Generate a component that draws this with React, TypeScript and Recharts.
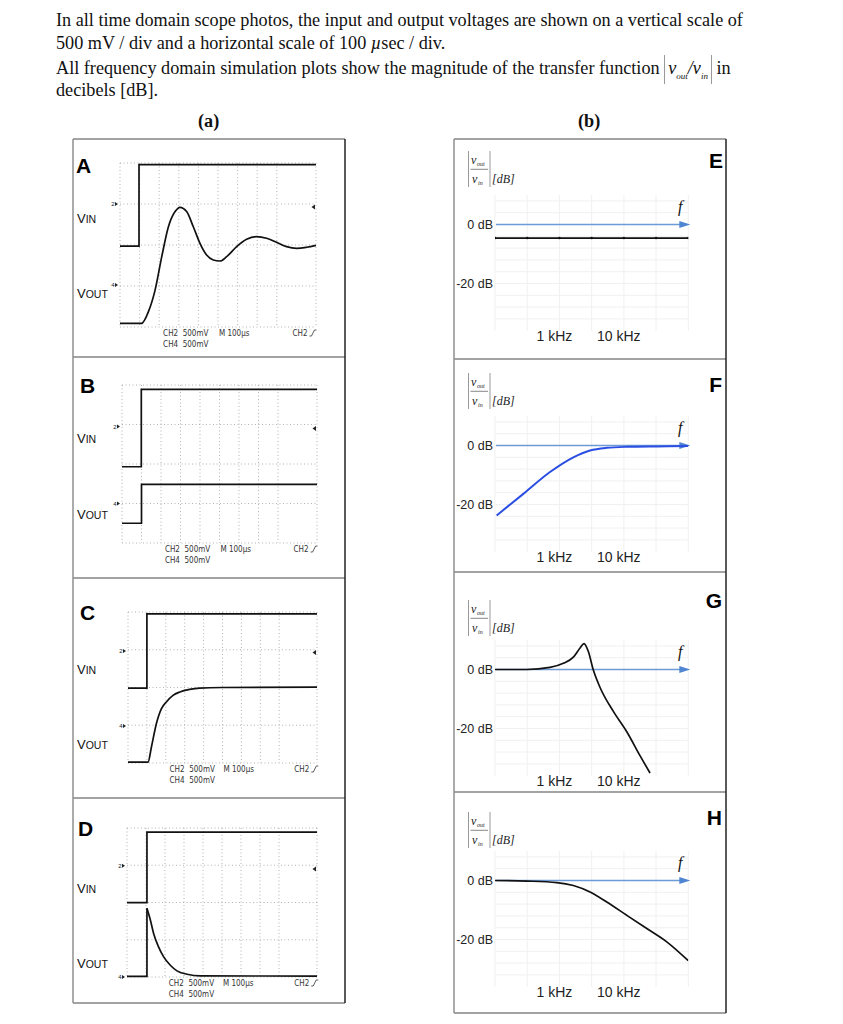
import React from 'react';
import { LineChart, Line, XAxis, YAxis, CartesianGrid, ReferenceLine, ReferenceDot } from 'recharts';

const SANS = "'Liberation Sans', Arial, Helvetica, sans-serif";
const NARROW = "'Liberation Sans Narrow', 'Arial Narrow', 'DejaVu Sans Condensed', sans-serif";
const SERIF = "'Liberation Serif', 'Times New Roman', Times, serif";

// ---- scope photos: 10 x 8 divisions (100 us/div, 500 mV/div), values read in divisions ----
const divX = [0, 1, 2, 3, 4, 5, 6, 7, 8, 9, 10];
const divY = [0, 1, 2, 3, 4, 5, 6, 7, 8];

// A - underdamped ringing
const aVinT = [0, 0.97, 0.97, 10];
const aVinV = [3.95, 3.95, 7.92, 7.92];
const aOutT = [0, 1.1, 1.45, 1.79, 2.13, 2.47, 2.81, 3.06, 3.4, 3.74, 4.08, 4.42, 4.76, 5.1, 5.44, 5.95, 6.46, 6.97, 7.48, 7.99, 8.5, 9.01, 9.52, 10];
const aOutV = [0.18, 0.18, 0.75, 1.8, 3.43, 4.89, 5.63, 5.84, 5.63, 4.89, 4.08, 3.51, 3.27, 3.22, 3.43, 3.92, 4.28, 4.41, 4.33, 4.13, 3.92, 3.84, 3.89, 3.98];

// B - flat (resistive divider)
const bVinT = [0, 0.99, 0.99, 10];
const bVinV = [3.86, 3.86, 7.78, 7.78];
const bOutT = [0, 1.0, 1.0, 10];
const bOutV = [1.0, 1.0, 2.97, 2.97];

// C - first order low pass
const cVinT = [0, 1.0, 1.0, 10];
const cVinV = [3.97, 3.97, 7.9, 7.9];
const cOutT = [0, 1.06, 1.24, 1.5, 1.77, 2.03, 2.38, 2.74, 3.26, 3.79, 5, 10];
const cOutV = [0.05, 0.05, 0.85, 2.08, 2.88, 3.23, 3.58, 3.76, 3.9, 3.97, 4.0, 4.02];

// D - first order high pass
const dVinT = [0, 1.05, 1.05, 10];
const dVinV = [3.99, 3.99, 7.78, 7.78];
const dJumpT = [0, 1.05, 1.05];
const dJumpV = [0.03, 0.03, 3.69];
const dOutT = [1.05, 1.23, 1.4, 1.66, 1.93, 2.28, 2.63, 3.16, 3.86, 10];
const dOutV = [3.69, 3.06, 2.34, 1.62, 1.08, 0.63, 0.33, 0.15, 0.06, 0.05];

// ground / trigger markers (divisions): ch2, ch4, trigger level
const aMarks = [6.0, 2.05, 5.85];
const bMarks = [5.9, 2.0, 5.8];
const cMarks = [5.93, 1.96, 5.85];
const dMarks = [5.97, 0.0, 5.8];
const readoutX = [2.2, 5.05, 8.8];

// ---- frequency plots: f in Hz, |vout/vin| in dB ----
const fTicks = [1000, 10000];
const dbTicks = [0, -20];
const gridF = [100, 316, 1000, 3162, 10000, 31623, 100000];
const gridDb = [8, 4, 0, -4, -8, -12, -16, -20, -24, -28, -32];

const eF = [100, 316, 1000, 3162, 10000, 31623, 100000];
const eDb = [-4.6, -4.6, -4.6, -4.6, -4.6, -4.6, -4.6];
const fF = [106, 275, 714, 1645, 2985, 5420, 11100, 32400, 100000];
const fDb = [-23.7, -16.4, -9.0, -4.0, -1.7, -0.8, -0.45, -0.3, -0.2];
const gF = [100, 310, 714, 1150, 1645, 2090, 2410, 2810, 3360, 4270, 6870, 11100, 17900, 25500];
const gDb = [0, 0, 0.7, 2.1, 4.2, 7.3, 8.8, 6.1, -0.2, -6.1, -14.2, -21.1, -29.3, -35.1];
const hF = [100, 310, 908, 1645, 2985, 5420, 11100, 22700, 46300, 100000];
const hDb = [0, -0.2, -0.7, -1.7, -3.9, -7.3, -11.8, -16.3, -20.8, -27.2];

const zipT = (t: number[], v: number[]) => t.map((x, i) => ({ t: x, v: v[i] }));
const zipF = (f: number[], d: number[]) => f.map((x, i) => ({ f: x, db: d[i] }));

const leftMark = (label: string) => (p: any) => (
  <g>
    <text x={p.cx - 5.5} y={p.cy + 2.2} fontSize={6} textAnchor="end" fill="#222" fontFamily={SANS}>{label}</text>
    <path d={`M${p.cx - 5},${p.cy - 2} L${p.cx - 2},${p.cy} L${p.cx - 5},${p.cy + 2} Z`} fill="#222" />
  </g>
);
const trigMark = (p: any) => (
  <path d={`M${p.cx - 1},${p.cy - 2.5} L${p.cx - 4.5},${p.cy} L${p.cx - 1},${p.cy + 2.5} Z`} fill="#222" />
);
const readout = (lines: string[], slope?: boolean) => (p: any) => (
  <g fontFamily={NARROW} fontSize={8} fill="#333">
    {lines.map((s, i) => (
      <text key={i} x={p.cx} y={p.cy + 9 + i * 11} style={{ whiteSpace: 'pre' }}>{s}</text>
    ))}
    {slope && <path d={`M${p.cx + 17},${p.cy + 9} L${p.cx + 19},${p.cy + 9} L${p.cx + 22},${p.cy + 3} L${p.cx + 24},${p.cy + 3}`} stroke="#333" strokeWidth={0.8} fill="none" />}
  </g>
);

type Part = { data: { t: number; v: number }[]; curve: 'linear' | 'monotone' };

function Scope({ box, parts, marks }: { box: number[]; parts: Part[]; marks: number[] }) {
  const [l, t, w, h] = box;
  const m = { top: 4, right: 4, bottom: 26, left: 14 };
  return (
    <div style={{ position: 'absolute', left: l - m.left, top: t - m.top }}>
      <LineChart width={w + m.left + m.right} height={h + m.top + m.bottom} margin={m}>
        <CartesianGrid stroke="#a0a0a0" strokeDasharray="1 2.5" strokeWidth={0.8} />
        <XAxis type="number" dataKey="t" domain={[0, 10]} ticks={divX} hide />
        <YAxis type="number" dataKey="v" domain={[0, 8]} ticks={divY} hide />
        {parts.map((p, i) => (
          <Line key={i} data={p.data} dataKey="v" type={p.curve} stroke="#111" strokeWidth={1.7} dot={false} isAnimationActive={false} />
        ))}
        <ReferenceDot x={0} y={marks[0]} ifOverflow="visible" shape={leftMark('2')} />
        <ReferenceDot x={0} y={marks[1]} ifOverflow="visible" shape={leftMark('4')} />
        <ReferenceDot x={10} y={marks[2]} ifOverflow="visible" shape={trigMark} />
        <ReferenceDot x={readoutX[0]} y={0} ifOverflow="visible" shape={readout(['CH2  500mV', 'CH4  500mV'])} />
        <ReferenceDot x={readoutX[1]} y={0} ifOverflow="visible" shape={readout(['M 100\u00b5s'])} />
        <ReferenceDot x={readoutX[2]} y={0} ifOverflow="visible" shape={readout(['CH2'], true)} />
      </LineChart>
    </div>
  );
}

const Arrow = (p: any) => {
  const { x1, y1, x2 } = p;
  const tip = x2 + 2;
  return (
    <g>
      <line x1={x1 + 1} y1={y1} x2={tip - 8} y2={y1} stroke="#6e9bd6" strokeWidth={1.3} />
      <path d={`M${tip - 11},${y1 - 3.5} L${tip},${y1} L${tip - 11},${y1 + 3.5} Z`} fill="#4f86d3" />
      <text x={tip - 10} y={y1 - 12} fontFamily={SERIF} fontStyle="italic" fontSize={16} textAnchor="middle" fill="#111">f</text>
    </g>
  );
};

const fmtF = (v: number) => `${v / 1000} kHz`;
const FreqTick = (p: any) => (
  <text x={p.x - 5} y={p.y} dy="0.71em" textAnchor="middle" fontSize={14} fontFamily={SANS} fill="#222">{fmtF(p.payload.value)}</text>
);

const PX_DB = 2.95;
const PLOT_L = 495;
const PLOT_W = 193.3;

function Bode({ y0, data, color, sw, dots }: { y0: number; data: { f: number; db: number }[]; color: string; sw: number; dots?: boolean }) {
  const m = { top: 4, right: 10, bottom: 0, left: 0 };
  const yw = 45;
  return (
    <div style={{ position: 'absolute', left: PLOT_L - yw, top: y0 - 10 * PX_DB - m.top }}>
      <LineChart width={yw + PLOT_W + m.right} height={m.top + 46 * PX_DB + 24} margin={m}>
        <XAxis type="number" dataKey="f" scale="log" domain={[100, 100000]} ticks={fTicks} axisLine={false} tickLine={false} tickSize={0} tickMargin={0} height={24} tick={FreqTick} allowDataOverflow />
        <YAxis type="number" dataKey="db" domain={[-36, 10]} ticks={dbTicks} tickFormatter={(v) => `${v} dB`} axisLine={false} tickLine={false} tickSize={0} tickMargin={2} width={yw} tick={{ fontSize: 12.5, fill: '#222', fontFamily: SANS }} allowDataOverflow />
        {gridF.map((f) => <ReferenceLine key={'x' + f} x={f} stroke="#f0f0f0" />)}
        {gridDb.map((d) => <ReferenceLine key={'y' + d} y={d} stroke="#f0f0f0" />)}
        <ReferenceLine y={0} shape={Arrow} />
        <Line data={data} dataKey="db" type="monotone" stroke={color} strokeWidth={sw} dot={dots ? { r: 1.3, fill: '#111', stroke: 'none' } : false} isAnimationActive={false} />
      </LineChart>
    </div>
  );
}

const Ratio = ({ x, y }: { x: number; y: number }) => (
  <g transform={`translate(${x},${y})`} fontFamily={SERIF} fontStyle="italic" fill="#222">
    <line x1={0.5} y1={0} x2={0.5} y2={36} stroke="#999" strokeWidth={1} />
    <line x1={22} y1={0} x2={22} y2={36} stroke="#999" strokeWidth={1} />
    <text x={3} y={13} fontSize={12}>v</text>
    <text x={9} y={14.5} fontSize={6}>out</text>
    <line x1={2.5} y1={18.3} x2={20} y2={18.3} stroke="#555" strokeWidth={0.7} />
    <text x={4} y={32} fontSize={12}>v</text>
    <text x={10} y={33.5} fontSize={6}>in</text>
    <text x={24} y={32} fontSize={12}>[dB]</text>
  </g>
);

const ChanLabel = ({ y, sub }: { y: number; sub: string }) => (
  <text x={77} y={y} fontFamily={SANS} fill="#111">
    <tspan fontSize={13}>V</tspan>
    <tspan fontSize={10.5}>{sub}</tspan>
  </text>
);

const Letter = ({ x, y, s, end }: { x: number; y: number; s: string; end?: boolean }) => (
  <text x={x} y={y} fontFamily={SANS} fontWeight="bold" fontSize={21} fill="#000" textAnchor={end ? 'end' : 'start'}>{s}</text>
);

const leftRows = [139, 357, 578, 798, 1003];
const rightRows = [139, 359, 572, 792, 1013];

function Frame({ x1, x2, rows }: { x1: number; x2: number; rows: number[] }) {
  return (
    <g>
      {rows.map((y) => <line key={y} x1={x1} y1={y} x2={x2} y2={y} stroke="#a3a3a3" strokeWidth={1.8} />)}
      <line x1={x1} y1={rows[0]} x2={x1} y2={rows[rows.length - 1]} stroke="#8f8f8f" strokeWidth={1.5} />
      <line x1={x2} y1={rows[0]} x2={x2} y2={rows[rows.length - 1]} stroke="#222" strokeWidth={1.5} />
    </g>
  );
}

const lineStyle: React.CSSProperties = {
  position: 'absolute', left: 56, fontFamily: SERIF, fontSize: 18.2, lineHeight: '18.2px', color: '#111', whiteSpace: 'nowrap',
};

export default function App() {
  return (
    <div style={{ position: 'absolute', left: 0, top: 0, width: 843, height: 1024, background: '#fff', overflow: 'hidden' }}>
      <div style={{ ...lineStyle, top: 11 }}>In all time domain scope photos, the input and output voltages are shown on a vertical scale of</div>
      <div style={{ ...lineStyle, top: 34 }}>500 mV / div and a horizontal scale of 100 <i>{'\u00b5'}</i>sec / div.</div>
      <div style={{ ...lineStyle, top: 58.5 }}>
        All frequency domain simulation plots show the magnitude of the transfer function{' '}
        <span style={{ position: 'relative', padding: '0 4px', fontStyle: 'italic' }}>
          <span style={{ position: 'absolute', left: 0, top: -3, bottom: -6, borderLeft: '1px solid #999' }} />
          v<sub style={{ fontSize: 9 }}>out</sub>/v<sub style={{ fontSize: 9 }}>in</sub>
          <span style={{ position: 'absolute', right: 0, top: -3, bottom: -6, borderLeft: '1px solid #999' }} />
        </span>{' '}in
      </div>
      <div style={{ ...lineStyle, top: 81 }}>decibels [dB].</div>
      <div style={{ ...lineStyle, left: 198, top: 111.5, fontWeight: 'bold' }}>(a)</div>
      <div style={{ ...lineStyle, left: 578, top: 111.5, fontWeight: 'bold' }}>(b)</div>

      <svg width={843} height={1024} style={{ position: 'absolute', left: 0, top: 0 }}>
        <Frame x1={73} x2={345} rows={leftRows} />
        <Frame x1={454} x2={726} rows={rightRows} />
        <Letter x={76} y={173} s="A" />
        <Letter x={80} y={393} s="B" />
        <Letter x={80} y={620} s="C" />
        <Letter x={78} y={836} s="D" />
        <ChanLabel y={223} sub="IN" />
        <ChanLabel y={298} sub="OUT" />
        <ChanLabel y={443} sub="IN" />
        <ChanLabel y={519} sub="OUT" />
        <ChanLabel y={674} sub="IN" />
        <ChanLabel y={749} sub="OUT" />
        <ChanLabel y={893} sub="IN" />
        <ChanLabel y={968} sub="OUT" />
        <Letter x={723} y={168} s="E" end />
        <Letter x={722} y={392} s="F" end />
        <Letter x={722} y={608} s="G" end />
        <Letter x={722} y={825} s="H" end />
        <Ratio x={468} y={151} />
        <Ratio x={468} y={373} />
        <Ratio x={468} y={600} />
        <Ratio x={468} y={812} />
      </svg>

      <Scope box={[120, 163, 196, 164]} marks={aMarks} parts={[
        { data: zipT(aVinT, aVinV), curve: 'linear' },
        { data: zipT(aOutT, aOutV), curve: 'monotone' },
      ]} />
      <Scope box={[122, 385, 195, 158]} marks={bMarks} parts={[
        { data: zipT(bVinT, bVinV), curve: 'linear' },
        { data: zipT(bOutT, bOutV), curve: 'linear' },
      ]} />
      <Scope box={[128, 612, 189, 151]} marks={cMarks} parts={[
        { data: zipT(cVinT, cVinV), curve: 'linear' },
        { data: zipT(cOutT, cOutV), curve: 'monotone' },
      ]} />
      <Scope box={[127, 828, 190, 149]} marks={dMarks} parts={[
        { data: zipT(dVinT, dVinV), curve: 'linear' },
        { data: zipT(dJumpT, dJumpV), curve: 'linear' },
        { data: zipT(dOutT, dOutV), curve: 'monotone' },
      ]} />

      <Bode y0={224} data={zipF(eF, eDb)} color="#111" sw={1.7} dots />
      <Bode y0={445} data={zipF(fF, fDb)} color="#2b4fe3" sw={2} />
      <Bode y0={669} data={zipF(gF, gDb)} color="#111" sw={1.7} />
      <Bode y0={880} data={zipF(hF, hDb)} color="#111" sw={1.7} />
    </div>
  );
}
